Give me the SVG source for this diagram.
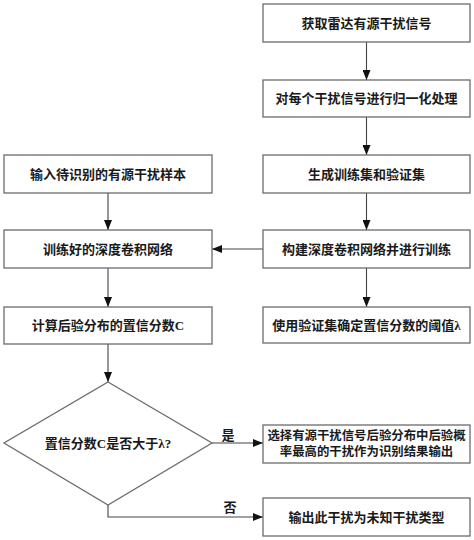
<svg xmlns="http://www.w3.org/2000/svg" width="474" height="540" viewBox="0 0 474 540">
<style>
.box{fill:#fff;stroke:#6b6b6b;stroke-width:1.3}
.t{font-family:"Liberation Serif","Noto Sans CJK SC",serif;font-size:13px;font-weight:700;fill:#1a1a1a;text-anchor:middle;dominant-baseline:central}
.s{font-size:12.4px}
.c{fill:none;stroke:#444;stroke-width:1.1}
</style>
<defs>
<marker id="ah" viewBox="0 0 10 8" refX="10" refY="4" markerWidth="10" markerHeight="8" markerUnits="userSpaceOnUse" orient="auto">
<path d="M0,0 L10,4 L0,8 Z" fill="#111"/>
</marker>
</defs>
<rect width="474" height="540" fill="#fff"/>
<g id="connectors">
<line class="c" x1="366.5" y1="42" x2="366.5" y2="80" marker-end="url(#ah)"/>
<line class="c" x1="366.5" y1="117" x2="366.5" y2="155" marker-end="url(#ah)"/>
<line class="c" x1="366.5" y1="193" x2="366.5" y2="230" marker-end="url(#ah)"/>
<line class="c" x1="366.5" y1="268" x2="366.5" y2="307" marker-end="url(#ah)"/>
<line class="c" x1="108" y1="193" x2="108" y2="230" marker-end="url(#ah)"/>
<line class="c" x1="108" y1="268" x2="108" y2="307" marker-end="url(#ah)"/>
<line class="c" x1="108" y1="344" x2="108" y2="382" marker-end="url(#ah)"/>
<line class="c" x1="263" y1="249" x2="212" y2="249" marker-end="url(#ah)"/>
<line class="c" x1="212" y1="443" x2="263" y2="443" marker-end="url(#ah)"/>
<polyline class="c" points="108,505 108,517 263,517" marker-end="url(#ah)"/>
<text class="t" x="228" y="435">是</text>
<text class="t" x="230" y="507">否</text>
</g>
<g id="n1"><rect class="box" x="263" y="4" width="207" height="38"/><text class="t" x="366.5" y="23">获取雷达有源干扰信号</text></g>
<g id="n2"><rect class="box" x="263" y="80" width="207" height="37"/><text class="t" x="366.5" y="98.5">对每个干扰信号进行归一化处理</text></g>
<g id="n3"><rect class="box" x="263" y="155" width="207" height="38"/><text class="t" x="366.5" y="174">生成训练集和验证集</text></g>
<g id="n4"><rect class="box" x="263" y="230" width="207" height="38"/><text class="t" x="366.5" y="249">构建深度卷积网络并进行训练</text></g>
<g id="n5"><rect class="box" x="263" y="307" width="207" height="36"/><text class="t" x="366.5" y="325">使用验证集确定置信分数的阈值λ</text></g>
<g id="l1"><rect class="box" x="4" y="155" width="208" height="38"/><text class="t" x="108" y="174">输入待识别的有源干扰样本</text></g>
<g id="l2"><rect class="box" x="4" y="230" width="208" height="38"/><text class="t" x="108" y="249">训练好的深度卷积网络</text></g>
<g id="l3"><rect class="box" x="4" y="307" width="208" height="37"/><text class="t" x="108" y="325.5">计算后验分布的置信分数C</text></g>
<g id="d1"><polygon class="box" points="108,382 212,443 108,505 4,443"/><text class="t" x="108" y="443">置信分数C是否大于λ?</text></g>
<g id="y1"><rect class="box" x="263" y="425" width="207" height="38"/><text class="t s" x="366.5" y="436">选择有源干扰信号后验分布中后验概</text><text class="t s" x="366.5" y="452">率最高的干扰作为识别结果输出</text></g>
<g id="no1"><rect class="box" x="263" y="498" width="207" height="38"/><text class="t" x="366.5" y="517">输出此干扰为未知干扰类型</text></g>
</svg>
